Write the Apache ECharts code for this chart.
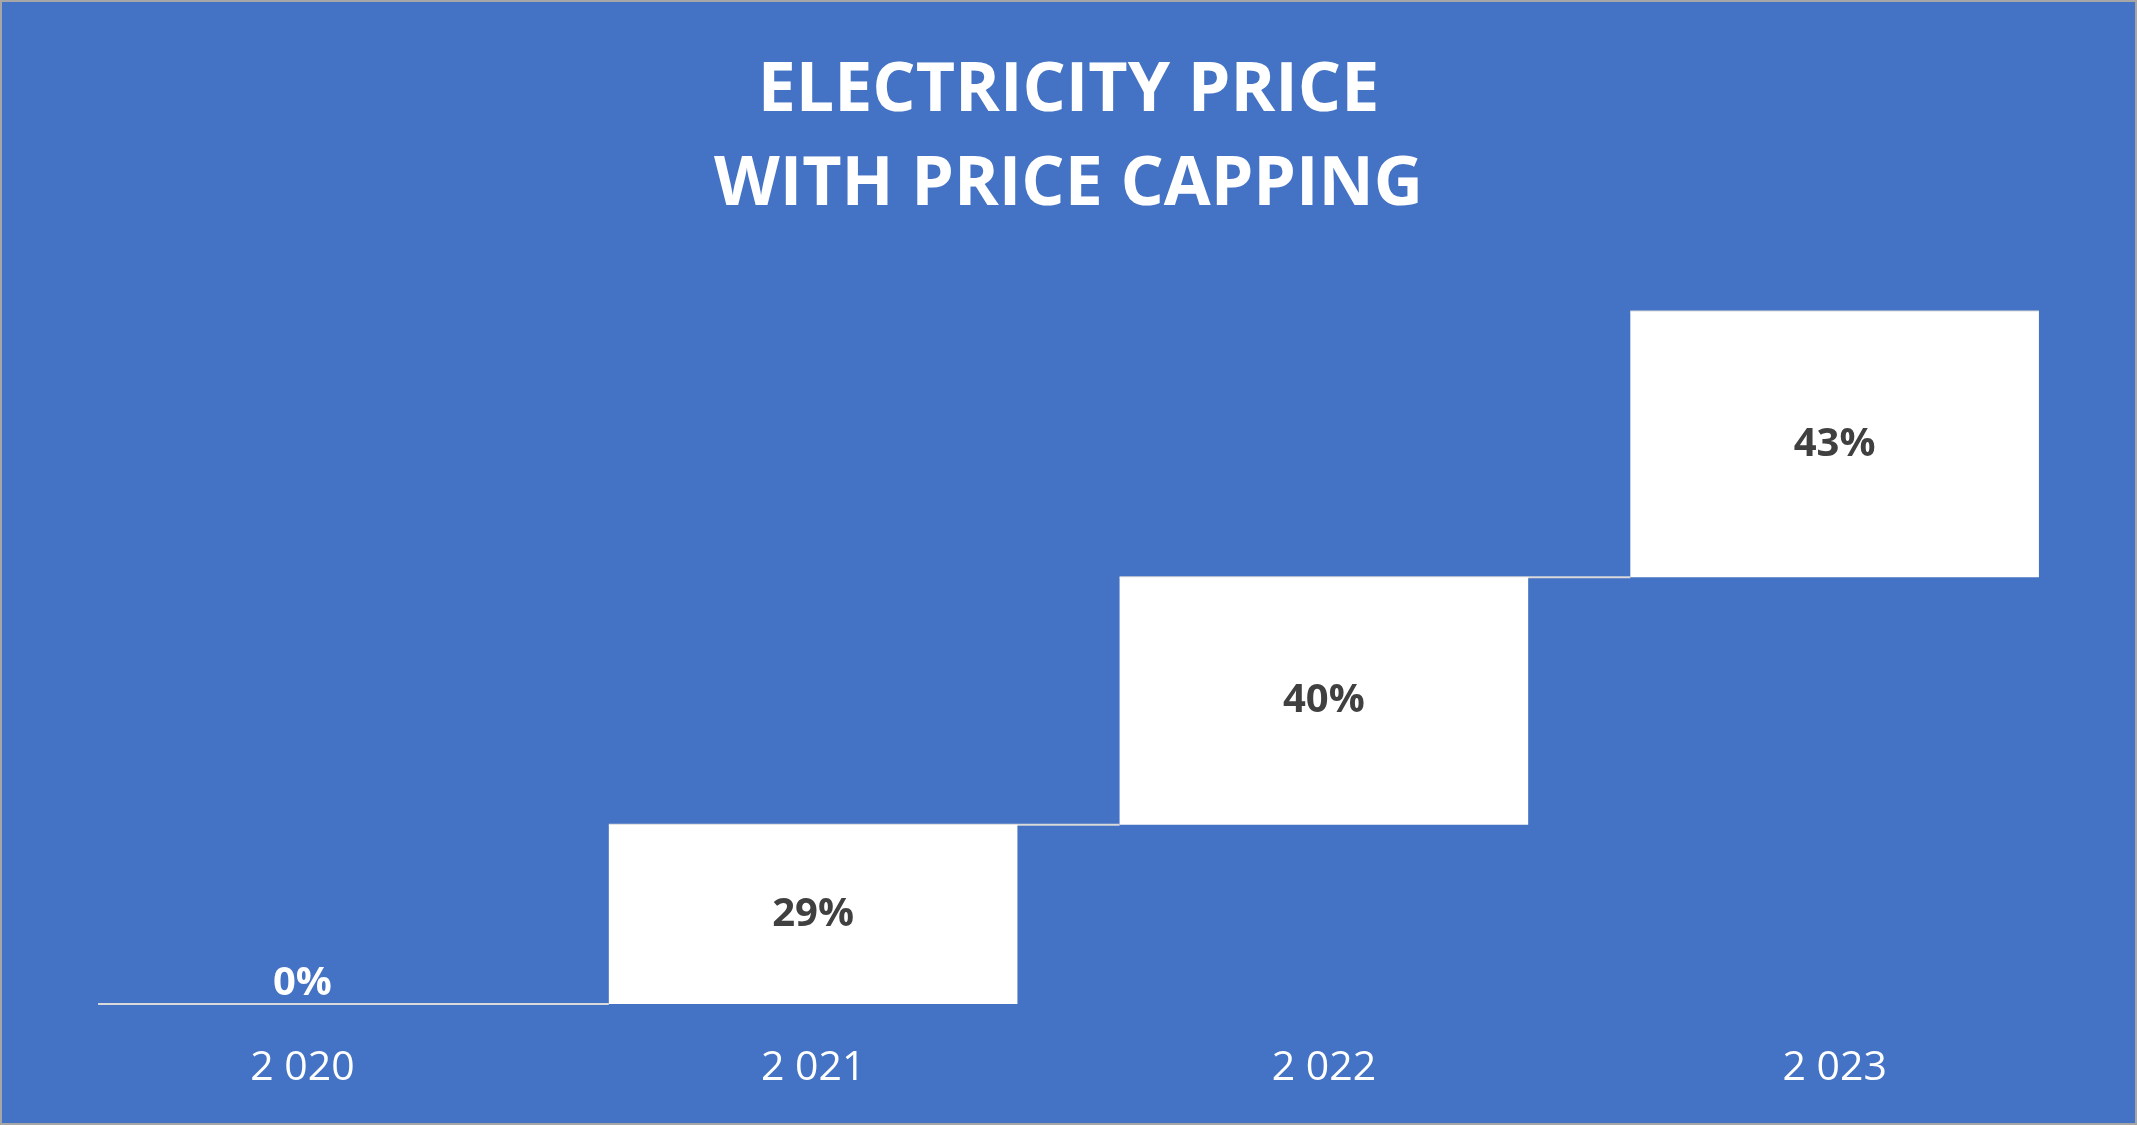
<!DOCTYPE html>
<html>
<head>
<meta charset="utf-8">
<script src="https://cdn.jsdelivr.net/npm/echarts@6/dist/echarts.min.js"></script>
<style>
html,body{margin:0;padding:0;background:#4472C4;}
#chart{width:2137px;height:1125px;box-sizing:border-box;border:2px solid #a6a6a6;}
</style>
</head>
<body>
<div id="chart"></div>
<script>
// waterfall: each year adds its own step
var years = ['2 020', '2 021', '2 022', '2 023'];
var steps = [0, 29, 40, 43];
var stepLabels = ['0%', '29%', '40%', '43%'];

var bases = [];
var tops = [];
var run = 0;
for (var i = 0; i < steps.length; i++) {
    bases.push(run);
    run += steps[i];
    tops.push(run);
}

var myChart = echarts.init(document.getElementById('chart'));
myChart.setOption({
    backgroundColor: '#4472C4',
    animation: false,
    title: {
        text: 'ELECTRICITY PRICE\nWITH PRICE CAPPING',
        left: 'center',
        top: 38,
        textStyle: {
            color: '#fff', fontSize: 68, fontWeight: 'bold',
            fontFamily: 'Open Sans', lineHeight: 94
        }
    },
    grid: {left: 45, right: 45, top: 260, bottom: 119},
    xAxis: {
        type: 'category', data: years,
        axisLine: {show: false}, axisTick: {show: false},
        axisLabel: {color: '#fff', fontSize: 41, margin: 44, fontFamily: 'Open Sans'}
    },
    yAxis: {type: 'value', min: 0, max: 120, show: false, splitLine: {show: false}},
    series: [
        {
            type: 'custom', z: 1,
            renderItem: function (params, api) {
                var i = api.value(0);
                var w = api.size([1, 0])[0];
                var p = api.coord([i, api.value(1)]);
                var x1 = p[0] - w * 0.4;
                var x2 = i < years.length - 1 ? p[0] + w * 0.6 : p[0] + w * 0.4;
                return {type: 'line', shape: {x1: x1, y1: p[1], x2: x2, y2: p[1]},
                    style: {stroke: '#d9d9d9', lineWidth: 2}};
            },
            data: tops.map(function (t, i) { return [i, t]; })
        },
        {
            type: 'bar', stack: 'w', barCategoryGap: '20%', z: 2,
            itemStyle: {color: 'transparent'},
            data: bases
        },
        {
            type: 'bar', stack: 'w', z: 3,
            itemStyle: {color: '#ffffff'},
            label: {
                show: true, position: 'inside', color: '#404040',
                fontSize: 40, fontWeight: 'bold', fontFamily: 'Open Sans',
                formatter: function (p) { return stepLabels[p.dataIndex]; }
            },
            data: steps.map(function (v, i) {
                if (v === 0) {
                    return {value: v, label: {position: 'top', color: '#fff', distance: 0}};
                }
                return v;
            })
        }
    ]
});
</script>
</body>
</html>
